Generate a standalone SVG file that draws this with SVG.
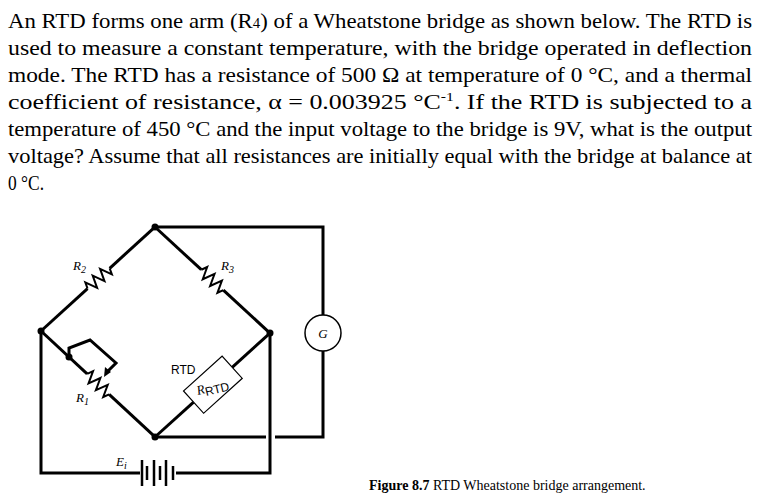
<svg xmlns="http://www.w3.org/2000/svg" width="762" height="502" viewBox="0 0 762 502">
<style>
.w{fill:none;stroke:#000;stroke-width:3}
.z{fill:none;stroke:#000;stroke-width:2;stroke-linejoin:miter}
.lbl{font-family:"Liberation Serif",serif;font-style:italic;font-size:13px}
.s{font-family:"Liberation Sans",sans-serif;font-size:12px}
.d{fill:#000}
</style>
<defs>
<g id="res">
<line class="w" x1="0" y1="0" x2="63" y2="0"/>
<polyline class="z" points="63,0 65.5,-6 70.5,6 75.5,-6 80.5,6 85.5,-6 90.5,6 93,0"/>
<line class="w" x1="93" y1="0" x2="156" y2="0"/>
</g>
</defs>
<rect width="762" height="502" fill="#fff"/>
<g id="text" font-family="Liberation Serif,serif" font-size="21.5">
<text x="8" y="28" textLength="744" lengthAdjust="spacingAndGlyphs">An RTD forms one arm (R<tspan font-size="14">4</tspan>) of a Wheatstone bridge as shown below. The RTD is</text>
<text x="8" y="55" textLength="744" lengthAdjust="spacingAndGlyphs">used to measure a constant temperature, with the bridge operated in deflection</text>
<text x="8" y="82" textLength="744" lengthAdjust="spacingAndGlyphs">mode. The RTD has a resistance of 500 Ω at temperature of 0 °C, and a thermal</text>
<text x="8" y="109" textLength="744" lengthAdjust="spacingAndGlyphs">coefficient of resistance, α = 0.003925 °C<tspan font-size="13" dy="-8">-1</tspan><tspan dy="8">. If the RTD is subjected to a</tspan></text>
<text x="8" y="136" textLength="744" lengthAdjust="spacingAndGlyphs">temperature of 450 °C and the input voltage to the bridge is 9V, what is the output</text>
<text x="8" y="163" textLength="744" lengthAdjust="spacingAndGlyphs">voltage? Assume that all resistances are initially equal with the bridge at balance at</text>
<text x="8" y="190" textLength="36" lengthAdjust="spacingAndGlyphs">0 °C.</text>
</g>
<g id="connectors">
<polyline class="w" points="155,227 323,227 323,315"/>
<polyline class="w" points="323,351 323,437 275,437"/>
<line class="w" x1="155" y1="437" x2="266" y2="437"/>
<polyline class="w" points="270,333 270,473 176,473"/>
<polyline class="w" points="41,331 41,473 140,473"/>
</g>
<g id="R2">
<use href="#res" transform="translate(41,331) rotate(-42.4)"/>
<text class="lbl" x="73" y="270">R<tspan font-size="10" dy="3">2</tspan></text>
</g>
<g id="R3">
<use href="#res" transform="translate(155,227) rotate(42.7)"/>
<text class="lbl" x="221" y="270">R<tspan font-size="10" dy="3">3</tspan></text>
</g>
<g id="R1">
<use href="#res" transform="translate(41,331) rotate(42.9)"/>
<polyline class="w" points="69,357 69,348 90,340 116,363 108,371"/>
<path d="M104,377 L105,367 L111,372 Z" class="d"/>
<text class="lbl" x="76" y="402">R<tspan font-size="10" dy="3">1</tspan></text>
</g>
<g id="RTD">
<g transform="translate(155,437) rotate(-42.1)">
<line class="w" x1="0" y1="0" x2="52" y2="0"/>
<line class="w" x1="104" y1="0" x2="155" y2="0"/>
<rect x="52" y="-15" width="52" height="30" fill="#fff" stroke="#000" stroke-width="1.2"/>
</g>
<text class="s" x="171" y="374">RTD</text>
<text class="lbl" x="197" y="392" transform="rotate(-14 210 390)">R<tspan class="s" font-style="normal" font-size="9" dy="3">RTD</tspan></text>
</g>
<g id="G">
<circle cx="323" cy="333" r="18" fill="#fff" stroke="#000" stroke-width="1.5"/>
<text class="lbl" x="323" y="338" text-anchor="middle" font-size="12">G</text>
</g>
<g id="battery">
<g stroke="#000" stroke-width="2.5">
<line x1="142" y1="460" x2="142" y2="486"/>
<line x1="147" y1="466" x2="147" y2="480"/>
<line x1="154" y1="460" x2="154" y2="486"/>
<line x1="160" y1="466" x2="160" y2="480"/>
<line x1="166" y1="460" x2="166" y2="486"/>
<line x1="173" y1="466" x2="173" y2="480"/>
</g>
<text class="lbl" x="116" y="466">E<tspan font-size="10" dy="3">i</tspan></text>
</g>
<g id="dots" class="d">
<circle cx="155" cy="227" r="3.5"/><circle cx="41" cy="331" r="3.5"/><circle cx="270" cy="333" r="3.5"/><circle cx="155" cy="437" r="3.5"/><circle cx="69" cy="357" r="3.5"/>
</g>
<g id="caption">
<text x="369" y="490" font-family="Liberation Serif,serif" font-size="14"><tspan font-weight="bold">Figure 8.7</tspan> RTD Wheatstone bridge arrangement.</text>
</g>
</svg>
